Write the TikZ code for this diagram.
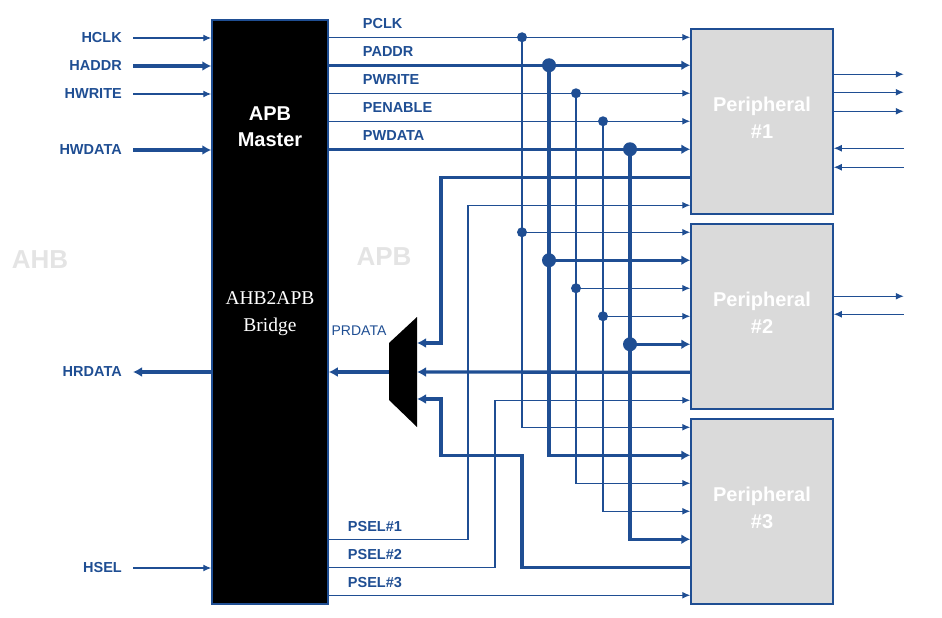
\documentclass[tikz,border=0pt]{standalone}
\usepackage{fontspec}
\setmainfont{Liberation Serif}
\setsansfont{Liberation Sans}
\usetikzlibrary{arrows.meta,positioning,calc}
\definecolor{busblue}{HTML}{1F4E93}
\definecolor{perigray}{HTML}{DADADA}
\definecolor{ghostgray}{HTML}{E4E4E4}

\begin{document}
\begin{tikzpicture}[
  x=1pt, y=-1pt,
  sig/.style={draw=busblue,line width=1.2pt,>={Latex[length=8pt,width=7pt]}},
  bus/.style={draw=busblue,line width=3.3pt,>={Latex[length=9pt,width=10pt]}},
  tap/.style={fill=busblue,circle,inner sep=0pt,minimum size=10pt},
  bigtap/.style={tap,minimum size=14pt},
  lbl/.style={text=busblue,font=\sffamily\bfseries\fontsize{14.5}{16}\selectfont,inner sep=0pt},
  ghost/.style={text=ghostgray,font=\sffamily\bfseries\fontsize{26}{28}\selectfont},
  periph/.style={draw=busblue,line width=1.5pt,fill=perigray,minimum width=142pt,minimum height=185pt,
    align=center,text=white,font=\sffamily\bfseries\fontsize{20}{27}\selectfont,inner sep=0pt}]
\useasboundingbox (0,0) rectangle (942,618);

% bridge block
\node[draw=busblue,line width=1.5pt,fill=black,minimum width=116pt,minimum height=584pt,inner sep=0pt] (master) at (270,312) {};
\node[text=white,align=center,font=\sffamily\bfseries\fontsize{20}{26}\selectfont] (mtitle) at (270,127) {APB\\Master};
\node[text=white,align=center,font=\fontsize{19.5}{27}\selectfont] (btitle) at (270,314) {AHB2APB\\Bridge};
\node[ghost] (ahb) at (40,260) {AHB};
\node[ghost] (apb) at (384,257) {APB};

% peripherals
\foreach \i/\yy in {1/121.5,2/316.5,3/511.5}{
  \node[periph] (p\i) at (762,\yy) {};
  \node[text=white,align=center,font=\sffamily\bfseries\fontsize{20}{27}\selectfont] (p\i-name)
    at ($(p\i.center)+(0,-4)$) {Peripheral\\\#\i};
  \foreach \k in {0,...,6}
    \coordinate (p\i-r\k) at ($(p\i.north west)+(0,9+28*\k)$);
}
% columns of the bus
\foreach \k in {-3,...,4}
  \coordinate (col\k) at (522+27*\k,0);

% AHB side
\foreach \name/\yy/\kind in {HCLK/38/sig,HADDR/66/bus,HWRITE/94/sig,HWDATA/150/bus,HSEL/568/sig}{
  \coordinate (\name-src) at (133,\yy);
  \node[lbl,anchor=east] (\name-lbl) at (122,\yy) {\name};
  \draw[\kind,->] (\name-src) -- (master.west |- \name-src);
}
\coordinate (HRDATA-dst) at (133,372);
\node[lbl,anchor=east] (HRDATA-lbl) at (122,372) {HRDATA};

% APB bus, fanned out to the three peripherals
\foreach \k/\name/\kind/\dot in {0/PCLK/sig/tap,1/PADDR/bus/bigtap,2/PWRITE/sig/tap,3/PENABLE/sig/tap,4/PWDATA/bus/bigtap}{
  \node[lbl,anchor=west] (\name-lbl) at ($(master.east |- p1-r\k)+(34,-13.5)$) {\name};
  \draw[\kind,->] (master.east |- p1-r\k) -- (p1-r\k);
  \draw[\kind,->] (col\k |- p2-r\k) -- (p2-r\k);
  \draw[\kind,->] (col\k |- p1-r\k) -- (col\k |- p3-r\k) -- (p3-r\k);
  \node[\dot] (t1-\k) at (col\k |- p1-r\k) {};
  \node[\dot] (t2-\k) at (col\k |- p2-r\k) {};
}

% read mux
\coordinate (mux-nw) at (389,343);
\coordinate (mux-ne) at (417,317);
\coordinate (mux-se) at (417,427);
\coordinate (mux-sw) at (389,400);
\fill[black] (mux-nw) -- (mux-ne) -- (mux-se) -- (mux-sw) -- cycle;
\coordinate (mux-in1) at (417,343);
\coordinate (mux-in2) at (417,372);
\coordinate (mux-in3) at (417,399);
\coordinate (mux-out) at (389,372);
\node[text=busblue,font=\sffamily\fontsize{14}{16}\selectfont,inner sep=0pt] (PRDATA-lbl) at (359,331) {PRDATA};

\draw[bus,->] (p1-r5) -- (col-3 |- p1-r5) -- (col-3 |- mux-in1) -- (mux-in1);
\draw[bus,->] (p2-r5) -- (mux-in2);
\draw[bus,->] (p3-r5) -- (col0 |- p3-r5) -- (col0 |- p3-r1) -- (col-3 |- p3-r1)
  -- (col-3 |- mux-in3) -- (mux-in3);
\draw[bus,->] (mux-out) -- (master.east |- mux-out);
\draw[bus,->] (master.west |- mux-out) -- (HRDATA-dst);

% select lines
\draw[sig,->] (master.east |- p3-r4) -- (col-2 |- p3-r4) -- (col-2 |- p1-r6) -- (p1-r6);
\draw[sig,->] (master.east |- p3-r5) -- (col-1 |- p3-r5) -- (col-1 |- p2-r6) -- (p2-r6);
\draw[sig,->] (master.east |- p3-r6) -- (p3-r6);
\foreach \j/\k in {1/4,2/5,3/6}
  \node[lbl,anchor=west] (PSEL\j-lbl) at ($(master.east |- p3-r\k)+(19,-12.5)$) {PSEL\#\j};

% peripheral side pins
\foreach \dy in {46,64,83}{
  \coordinate (o1-\dy) at ($(p1.north east)+(70,\dy)$);
  \draw[sig,->] (p1.north east |- o1-\dy) -- (o1-\dy);
}
\foreach \dy in {120,139}{
  \coordinate (i1-\dy) at ($(p1.north east)+(70,\dy)$);
  \draw[sig,->] (i1-\dy) -- (p1.north east |- i1-\dy);
}
\coordinate (o2) at ($(p2.north east)+(70,73)$);
\coordinate (i2) at ($(p2.north east)+(70,91)$);
\draw[sig,->] (p2.north east |- o2) -- (o2);
\draw[sig,->] (i2) -- (p2.north east |- i2);
\end{tikzpicture}
\end{document}
